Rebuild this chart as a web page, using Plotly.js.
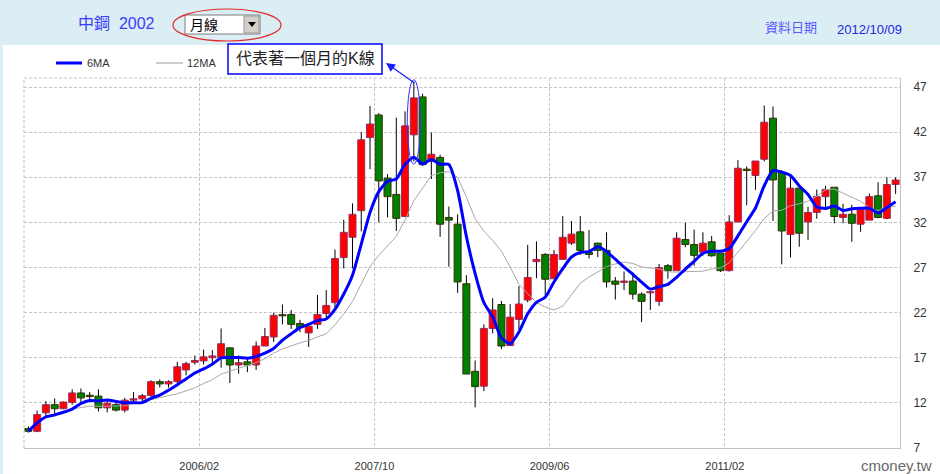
<!DOCTYPE html>
<html><head><meta charset="utf-8">
<script src="https://cdn.plot.ly/plotly-3.0.1.min.js"></script>
<style>html,body{margin:0;padding:0;background:#fff;}#chart{width:940px;height:474px;}</style>
</head><body><div id="chart"></div>
<script>
const months = [
'2004/07','2004/08','2004/09','2004/10','2004/11','2004/12',
'2005/01','2005/02','2005/03','2005/04','2005/05','2005/06','2005/07','2005/08','2005/09','2005/10','2005/11','2005/12',
'2006/01','2006/02','2006/03','2006/04','2006/05','2006/06','2006/07','2006/08','2006/09','2006/10','2006/11','2006/12',
'2007/01','2007/02','2007/03','2007/04','2007/05','2007/06','2007/07','2007/08','2007/09','2007/10','2007/11','2007/12',
'2008/01','2008/02','2008/03','2008/04','2008/05','2008/06','2008/07','2008/08','2008/09','2008/10','2008/11','2008/12',
'2009/01','2009/02','2009/03','2009/04','2009/05','2009/06','2009/07','2009/08','2009/09','2009/10','2009/11','2009/12',
'2010/01','2010/02','2010/03','2010/04','2010/05','2010/06','2010/07','2010/08','2010/09','2010/10','2010/11','2010/12',
'2011/01','2011/02','2011/03','2011/04','2011/05','2011/06','2011/07','2011/08','2011/09','2011/10','2011/11','2011/12',
'2012/01','2012/02','2012/03','2012/04','2012/05','2012/06','2012/07','2012/08','2012/09','2012/10'];

const open = [9.15,8.85,10.9,11.8,11.35,12.05,13.1,12.85,12.75,11.45,
11.8,11.2,12.3,12.45,12.8,14.35,14.1,14.35,15.65,16.5,
16.65,17.0,17.05,18.1,16.2,16.55,16.2,18.3,19.3,21.75,
21.8,20.8,19.75,20.7,21.9,23.1,28.1,30.35,33.3,41.4,
43.9,36.9,35.1,32.65,41.7,45.9,38.75,39.2,32.55,31.8,
25.2,15.5,13.85,20.25,22.9,18.35,21.25,23.4,27.65,28.45,
25.75,27.9,29.7,30.95,28.65,29.7,28.9,25.5,25.35,25.5,
24.05,24.2,23.25,27.2,26.65,30.1,29.55,28.7,29.85,28.6,
26.65,32.05,37.9,37.2,39.0,43.55,37.55,30.65,35.8,32.05,
33.1,34.85,35.9,32.55,32.9,31.8,32.25,34.95,32.45,36.2];

const high = [9.4,11.15,12.2,12.5,12.15,13.5,13.6,13.2,13.5,12.2,
12.0,12.55,13.2,13.0,14.5,14.6,14.5,16.55,16.55,17.25,
17.9,17.85,20.25,18.15,17.25,17.1,18.8,20.3,22.0,22.9,
22.3,21.2,20.5,23.95,24.5,29.0,32.3,34.1,42.0,44.9,
44.1,37.35,43.6,44.3,47.6,46.25,41.95,39.5,33.75,32.9,
26.15,16.7,20.7,23.6,23.3,22.95,24.95,29.5,29.9,28.6,
28.95,32.7,32.15,32.7,31.15,29.75,30.9,25.95,26.55,26.45,
24.25,24.4,27.4,27.4,30.9,31.95,31.2,30.9,30.5,28.6,
32.8,38.9,38.2,38.8,44.95,44.85,37.8,37.15,35.8,33.75,
35.65,36.05,35.9,34.05,33.95,33.55,35.2,36.45,37.0,37.0];

const low = [8.7,8.75,10.5,10.5,11.3,11.8,11.9,12.4,11.05,10.95,
11.05,10.95,11.9,12.2,12.7,13.7,13.7,14.2,15.05,16.25,
16.25,16.4,15.9,14.2,15.25,15.4,15.65,18.3,18.75,20.7,
20.2,19.85,18.2,20.2,21.45,22.6,26.9,26.9,31.0,37.9,
32.0,32.55,31.05,32.6,38.75,38.25,36.8,30.4,27.1,24.2,
15.2,11.5,13.3,19.7,17.95,18.3,20.15,23.15,25.8,23.8,
25.75,27.85,29.5,28.4,28.0,28.15,24.8,23.45,24.5,23.45,
20.95,22.3,22.75,25.75,26.65,29.25,27.2,28.3,28.2,26.5,
26.55,32.0,33.9,35.6,38.75,32.15,27.35,28.1,29.3,30.05,
32.4,33.55,31.9,31.9,29.85,30.95,32.25,32.45,32.35,35.15];

const close = [8.85,10.7,11.8,11.35,12.1,13.1,12.55,12.7,11.45,11.95,
11.2,12.3,12.45,12.8,14.35,14.1,14.35,16.0,16.35,16.7,
17.1,17.2,18.55,16.2,16.45,16.2,18.3,19.35,21.7,21.65,
20.7,20.35,20.5,21.8,22.8,28.0,30.9,32.9,41.15,42.9,
36.6,34.85,32.45,42.7,45.8,38.4,39.55,31.8,32.25,25.4,
15.2,13.8,20.25,22.3,18.3,21.5,22.95,25.9,27.9,25.7,
28.45,30.35,30.7,28.9,28.45,28.9,25.4,25.15,25.5,24.05,
23.25,24.3,27.0,26.65,30.25,29.55,28.35,29.7,28.3,26.65,
32.05,38.0,37.75,38.8,43.1,36.7,31.05,35.8,30.8,33.1,
34.85,35.65,32.65,32.9,31.9,33.45,34.85,32.55,36.2,36.7];

const tickLabels = ['2006/02','2007/10','2009/06','2011/02'];
const yTicks = [7,12,17,22,27,32,37,42,47];
const maPeriods = [6, 12];

// ---- derived ----
const N = months.length;
const idx = months.map((m, i) => i);
const isUp = close.map((c, i) => c >= open[i]);
const bodyLo = open.map((o, i) => Math.min(o, close[i]));
const bodyHi = open.map((o, i) => Math.max(o, close[i]));
const bodyH = bodyHi.map((t, i) => Math.max(t - bodyLo[i], 0.12));
const wx = [], wy = [];
for (let i = 0; i < N; i++) {
  wx.push(i, i, null, i, i, null);
  wy.push(high[i], bodyHi[i], null, bodyLo[i], low[i], null);
}
function movingAvg(n) {
  return close.map((c, i) => {
    const s = Math.max(0, i - n + 1);
    let t = 0;
    for (let k = s; k <= i; k++) t += close[k];
    return t / (i - s + 1);
  });
}
const ma6 = movingAvg(maPeriods[0]);
const ma12 = movingAvg(maPeriods[1]);
const peakIdx = high.indexOf(Math.max(...high));

// ---- geometry helpers (pixel -> paper) ----
const W = 940, H = 474, M = {l: 24, r: 40, t: 78, b: 26};
const PW = W - M.l - M.r, PH = H - M.t - M.b;
const px = x => (x - M.l) / PW;
const py = y => (H - M.b - y) / PH;

const traces = [
  {type: 'bar', x: idx, y: bodyH, base: bodyLo, width: 0.8,
   marker: {color: isUp.map(u => u ? '#ff0000' : '#008000'),
            line: {color: isUp.map(u => u ? '#993366' : '#333300'), width: 1}},
   hoverinfo: 'skip', showlegend: false},
  {type: 'scatter', mode: 'lines', x: wx, y: wy, connectgaps: false,
   line: {color: '#000000', width: 1}, hoverinfo: 'skip', showlegend: false},
  {type: 'scatter', mode: 'lines', x: idx, y: ma12,
   line: {color: '#a8a8a8', width: 1}, hoverinfo: 'skip', showlegend: false},
  {type: 'scatter', mode: 'lines', x: idx, y: ma6,
   line: {color: '#0000ff', width: 3, shape: 'spline', smoothing: 0.6}, hoverinfo: 'skip', showlegend: false}
];

const HEADER = '#dbeef4';
const shapes = [
  {type: 'rect', xref: 'paper', yref: 'paper', x0: px(0), x1: px(W), y0: py(45), y1: py(0), fillcolor: HEADER, line: {width: 0}, layer: 'below'},
  {type: 'rect', xref: 'paper', yref: 'paper', x0: px(0), x1: px(3), y0: py(H), y1: py(45), fillcolor: HEADER, line: {width: 0}, layer: 'below'},
  // dropdown
  {type: 'rect', xref: 'paper', yref: 'paper', x0: px(185), x1: px(260), y0: py(34), y1: py(15), fillcolor: '#ffffff', line: {color: '#7a7a7a', width: 1}},
  {type: 'rect', xref: 'paper', yref: 'paper', x0: px(244), x1: px(259), y0: py(33), y1: py(16), fillcolor: '#d4d0c8', line: {color: '#9a9a9a', width: 1}},
  {type: 'path', xref: 'paper', yref: 'paper', path: `M ${px(248)},${py(22)} L ${px(256)},${py(22)} L ${px(252)},${py(27)} Z`, fillcolor: '#000000', line: {width: 0}},
  {type: 'circle', xref: 'paper', yref: 'paper', x0: px(173), x1: px(281), y0: py(41), y1: py(9), line: {color: '#e02828', width: 1.2}},
  // note box
  {type: 'rect', xref: 'paper', yref: 'paper', x0: px(228), x1: px(382), y0: py(74), y1: py(44), fillcolor: '#ffffff', line: {color: '#0000ff', width: 1.5}},
  // legend lines
  {type: 'line', xref: 'paper', yref: 'paper', x0: px(56), x1: px(82), y0: py(63), y1: py(63), line: {color: '#0000ff', width: 3}},
  {type: 'line', xref: 'paper', yref: 'paper', x0: px(156), x1: px(183), y0: py(63), y1: py(63), line: {color: '#9a9a9a', width: 1}},
  // dashed top and left borders
  {type: 'line', xref: 'paper', yref: 'paper', x0: 0, x1: 1, y0: 1, y1: 1, line: {color: '#c4c4c4', width: 1, dash: '3px,2px'}},
  {type: 'line', xref: 'paper', yref: 'paper', x0: 0, x1: 0, y0: 0, y1: 1, line: {color: '#c4c4c4', width: 1, dash: '3px,2px'}},
  // highlight ellipse around the peak month candle
  {type: 'circle', xref: 'x', yref: 'y', x0: peakIdx - 0.75, x1: peakIdx + 0.75, y0: low[peakIdx] - 0.3, y1: high[peakIdx] + 0.2, line: {color: '#3333ff', width: 1}}
];

const LAT = 'Liberation Sans, Arial, sans-serif';
const CJK = 'Liberation Sans, Noto Sans CJK TC, sans-serif';
const ann = (x, y, text, size, color, extra) => Object.assign({xref: 'paper', yref: 'paper', x: px(x), y: py(y), text: text, showarrow: false, xanchor: 'left', yanchor: 'middle', font: {size: size, color: color, family: CJK}}, extra || {});
const annotations = [
  ann(76, 24, '中鋼&nbsp;&nbsp;2002', 16, '#3b3bff'),
  ann(188, 25, '月線', 14, '#000000'),
  ann(763, 27, '資料日期', 13, '#5a5aff'),
  ann(835, 29, '2012/10/09', 13, '#2525e0', {font: {size: 13, color: '#2525e0', family: LAT}}),
  ann(305, 58, '代表著一個月的K線', 16, '#222222', {xanchor: 'center'}),
  ann(85, 63, '6MA', 11, '#333333', {font: {size: 11, color: '#333333', family: LAT}}),
  ann(185, 63, '12MA', 11, '#333333', {font: {size: 11, color: '#333333', family: LAT}}),
  ann(934, 465, 'cmoney.tw', 15, '#6a6a6a', {xanchor: 'right', font: {size: 15, color: '#6a6a6a', family: LAT}}),
  {xref: 'paper', yref: 'paper', x: px(386), y: py(63), text: '', showarrow: true, ax: 30, ay: 21,
   arrowhead: 2, arrowsize: 1.5, arrowwidth: 1.2, arrowcolor: '#1a1aff'}
];

const layout = {
  width: W, height: H,
  margin: M,
  paper_bgcolor: '#ffffff', plot_bgcolor: '#ffffff',
  showlegend: false,
  bargap: 0,
  xaxis: {range: [-0.5, N - 0.5], tickvals: tickLabels.map(l => months.indexOf(l) + 0.5), ticktext: tickLabels,
          showgrid: true, gridcolor: '#c4c4c4', griddash: '3px,2px', zeroline: false,
          showline: true, linecolor: '#c0c0c0', linewidth: 1, ticks: '', ticklabelstandoff: 8,
          tickfont: {size: 11, color: '#333333', family: LAT}, fixedrange: true},
  yaxis: {range: [7, 48], side: 'right', tickvals: yTicks, ticktext: yTicks.map(String),
          showgrid: true, gridcolor: '#c4c4c4', griddash: '3px,2px', zeroline: false,
          showline: true, linecolor: '#c0c0c0', linewidth: 1, ticks: '', ticklabelstandoff: 10,
          tickfont: {size: 12, color: '#333333', family: LAT}, fixedrange: true},
  shapes: shapes,
  annotations: annotations
};

Plotly.newPlot('chart', traces, layout, {displayModeBar: false, staticPlot: true});
</script>
</body></html>
